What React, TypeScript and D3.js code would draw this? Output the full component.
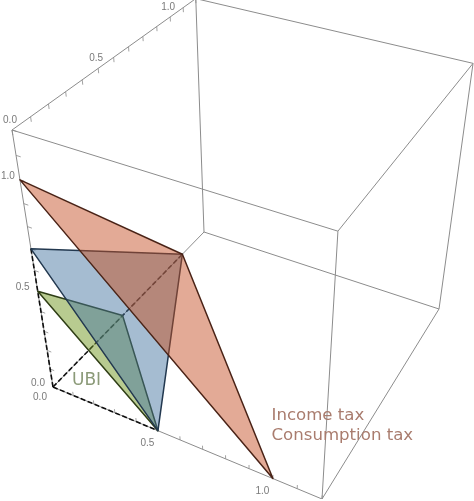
import * as d3 from "d3";

// Axis ranges and tick values of the three dimensions
const axisMax = 1.2;
const tickValues = [0, 0.1, 0.2, 0.3, 0.4, 0.5, 0.6, 0.7, 0.8, 0.9, 1.0, 1.1, 1.2];
const labelValues = [0, 0.5, 1.0];

// Axis intercepts [x, y, z] of each plane
const ubiPlane = [0.5, 0.5, 0.5];
const consumptionPlane = [0.5, 1.0, 0.7];
const incomePlane = [1.0, 1.0, 1.0];

const surfaces = [
  { name: "UBI", values: ubiPlane, fill: "#6b9319", stroke: "#2e3d14" },
  { name: "Consumption", values: consumptionPlane, fill: "#45739f", stroke: "#22384f" },
  { name: "Income", values: incomePlane, fill: "#c54d1d", stroke: "#4a2418" },
];

// Screen positions of the box corners, used to fit the perspective
const origin: Pt = [53, 387];
const endX: Pt = [322, 499];
const endY: Pt = [204, 232];
const endZ: Pt = [12, 130];
const cornerXY: Pt = [439, 309];
const cornerXZ: Pt = [338, 230];

type Pt = [number, number];

function solveWeights(c: Pt, p: Pt, q: Pt): [number, number] {
  const ax = c[0] - p[0], ay = c[1] - p[1];
  const bx = c[0] - q[0], by = c[1] - q[1];
  const rx = c[0] - origin[0], ry = c[1] - origin[1];
  const det = ax * by - bx * ay;
  return [(rx * by - bx * ry) / det, (ax * ry - rx * ay) / det];
}

const [wx, wy] = solveWeights(cornerXY, endX, endY);
const [, wz] = solveWeights(cornerXZ, endX, endZ);

const unit = d3.scaleLinear().domain([0, axisMax]).range([0, 1]);

// data (x, y, z) -> screen
function project(x: number, y: number, z: number): Pt {
  const u = unit(x), v = unit(y), w = unit(z);
  const d = 1 + u * (wx - 1) + v * (wy - 1) + w * (wz - 1);
  const f = (i: 0 | 1) =>
    (origin[i] +
      u * (wx * endX[i] - origin[i]) +
      v * (wy * endY[i] - origin[i]) +
      w * (wz * endZ[i] - origin[i])) / d;
  return [f(0), f(1)];
}

const line = d3.line<Pt>();
const m = axisMax;

const boxEdges: [number, number, number][][] = [
  [[0, 0, 0], [m, 0, 0]],
  [[0, 0, 0], [0, m, 0]],
  [[0, 0, 0], [0, 0, m]],
  [[m, 0, 0], [m, m, 0]],
  [[m, 0, 0], [m, 0, m]],
  [[0, m, 0], [m, m, 0]],
  [[0, m, 0], [0, m, m]],
  [[0, 0, m], [m, 0, m]],
  [[0, 0, m], [0, m, m]],
  [[m, m, 0], [m, m, m]],
  [[m, 0, m], [m, m, m]],
  [[0, m, m], [m, m, m]],
];

const gray = "#8c8c8c";
const labelFont = "'Liberation Sans', sans-serif";
const textFont = "'DejaVu Sans', sans-serif";

function Tick({ a, b }: { a: Pt; b: Pt }) {
  return <path d={line([a, b]) ?? ""} stroke={gray} strokeWidth={0.8} fill="none" />;
}

function Label({ at, dx, dy, v }: { at: Pt; dx: number; dy: number; v: number }) {
  return (
    <text x={at[0] + dx} y={at[1] + dy} textAnchor="middle" dominantBaseline="middle"
      fontFamily={labelFont} fontSize={10} fill="#7a7a7a">
      {d3.format(".1f")(v)}
    </text>
  );
}

export default function App() {
  return (
    <svg width={474} height={501} style={{ position: "absolute", left: 0, top: 0, background: "#fff" }}>
      <defs>
        <filter id="soft" x="0" y="0" width="100%" height="100%">
          <feGaussianBlur stdDeviation={0.35} />
        </filter>
      </defs>
      <g filter="url(#soft)">
        {boxEdges.map((e, i) => (
          <path key={i} d={line([project(...e[0]), project(...e[1])]) ?? ""}
            stroke={gray} strokeWidth={1} fill="none" />
        ))}

        {/* ticks on the three drawn axes */}
        {tickValues.map((t) => (
          <g key={t}>
            <Tick a={project(t, 0, 0)} b={project(t, 0, 0.02)} />
            <Tick a={project(0, t, m)} b={project(0, t, m - 0.02)} />
            <Tick a={project(0, 0, t)} b={project(0.02, 0, t)} />
          </g>
        ))}

        {labelValues.map((t) => (
          <g key={t}>
            <Label at={project(t, 0, 0)} v={t} dx={t === 0 ? -13 : -10.5} dy={t === 0 ? 10 : 13} />
            <Label at={project(0, t, m)} v={t} dx={-2} dy={-10} />
            <Label at={project(0, 0, t)} v={t} dx={t === 1 ? -12 : -15} dy={-4} />
          </g>
        ))}

        {/* dashed intercept lines, under the planes */}
        {[
          [[0, 0, 0], [0.5, 0, 0]],
          [[0, 0, 0], [0, 1, 0]],
          [[0, 0, 0], [0, 0, 0.7]],
        ].map((e, i) => (
          <path key={i} d={line([project(...(e[0] as [number, number, number])), project(...(e[1] as [number, number, number]))]) ?? ""}
            stroke="#111" strokeWidth={1.6} strokeDasharray="5 2.5" fill="none" />
        ))}

        {surfaces.map((s) => {
          const [a, b, c] = s.values;
          const pts = [project(a, 0, 0), project(0, b, 0), project(0, 0, c)];
          return (
            <path key={s.name} d={(line(pts) ?? "") + "Z"} fill={s.fill} fillOpacity={0.48}
              stroke={s.stroke} strokeWidth={1.5} strokeLinejoin="round" />
          );
        })}

        <text x={72} y={385} fontFamily={textFont} fontSize={17} fill="#8b9a78">UBI</text>
        <text x={271.5} y={419.5} fontFamily={textFont} fontSize={16.6} fill="#a97c6e">Income tax</text>
        <text x={271.5} y={440} fontFamily={textFont} fontSize={16.6} fill="#a97c6e">Consumption tax</text>
      </g>
    </svg>
  );
}
